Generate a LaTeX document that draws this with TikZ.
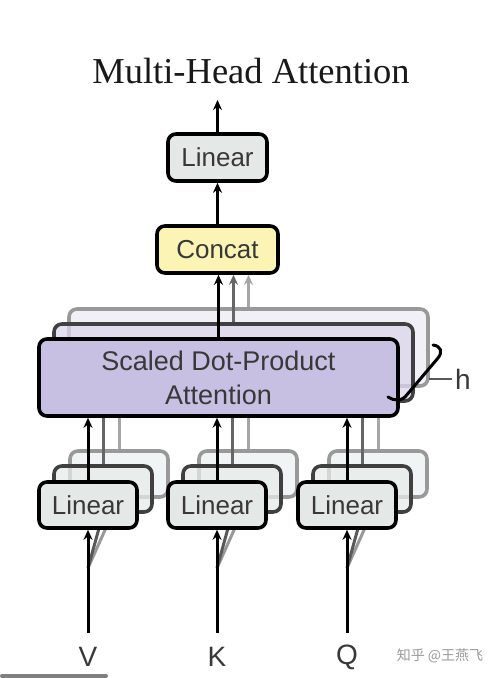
\documentclass[tikz,border=0pt]{standalone}
\usepackage{fontspec}
\setmainfont{Liberation Serif}
\setsansfont{Liberation Sans}
\newfontfamily\cjkfont{Noto Sans CJK SC}
\usetikzlibrary{arrows.meta}
\definecolor{linfill}{HTML}{E4E9E8}
\definecolor{catfill}{HTML}{FBF4B4}
\definecolor{sdpfill}{HTML}{C8C0E2}
\definecolor{txt}{HTML}{383838}
\begin{document}
\begin{tikzpicture}[x=1pt,y=-1pt,
  box/.style={draw=black, line width=3.6pt, rounded corners=8pt, inner sep=0pt,
    text=txt, font=\sffamily\fontsize{26}{30}\selectfont},
  linbox/.style={box, fill=linfill, minimum width=98pt, minimum height=46pt},
  backA/.style={draw=black!75, fill opacity=0.75},
  backB/.style={draw=black!40, fill opacity=0.6},
  arr/.style={line width=3pt, -{Stealth[length=10pt,width=9pt]}},
  ln/.style={line width=3pt},
  lbl/.style={text=txt, font=\sffamily\fontsize{28}{30}\selectfont, inner sep=0pt}]
\useasboundingbox[fill=white] (0,0) rectangle (496,678);

% title
\node[font=\fontsize{36.5}{40}\selectfont, text=black!90] (title) at (251,71) {Multi-Head Attention};

% top linear and concat
\node[box, fill=linfill, minimum width=99pt, minimum height=47pt] (lin) at (217.5,157.5) {Linear};
\node[box, fill=catfill, minimum width=121pt, minimum height=47pt] (cat) at (217.5,249.5) {Concat};
\coordinate (out) at (217.5,100);
\draw[arr] (lin.north) -- (out);
\draw[arr] (cat.north) -- (lin.south);

% scaled dot-product attention stack
\node[box, backB, fill=sdpfill!40, minimum width=359pt, minimum height=77pt] (s2) at (248.5,347.5) {};
\node[box, backA, fill=sdpfill!65, minimum width=359pt, minimum height=77pt] (s1) at (233.5,362.5) {};
\draw[arr, black!35] (s2.north) -- (s2.north |- cat.south);
\draw[arr, black!60] (s1.north) -- (s1.north |- cat.south);

% bottom linear stacks
\foreach \n/\x in {V/88,K/217,Q/347}{
  \node[linbox, backB, fill=linfill!80] (b\n2) at (\x+31,474) {};
  \node[linbox, backA, fill=linfill!90] (b\n1) at (\x+15,489) {};
  \draw[ln, black!35] (b\n2.north) -- (b\n2.north |- s2.south);
  \draw[ln, black!60] (b\n1.north) -- (b\n1.north |- s1.south);
  \coordinate (br\n) at (\x,568);
  \draw[ln, black!40] (br\n) -- (b\n2.south);
  \draw[ln, black!65] (br\n) -- (b\n1.south);
  \node[linbox] (b\n0) at (\x,505) {Linear};
  \coordinate (in\n) at (\x,633);
  \draw[arr] (in\n) -- (b\n0.south);
  \node[lbl] (lab\n) at (\x,657) {\n};
}

% front attention box
\node[box, fill=sdpfill, minimum width=359pt, minimum height=77pt, align=center,
  font=\sffamily\fontsize{27}{34}\selectfont] (s0) at (218.5,377.5) {Scaled Dot-Product\\Attention};
\draw[arr] (s0.north) -- (s0.north |- cat.south);
\foreach \n in {V,K,Q}{
  \draw[arr] (b\n0.north) -- (b\n0.north |- s0.south);
}

% h bracket
\node[lbl] (h) at (463,379) {h};
\draw[line width=2.5pt, black!65] (h.west) ++(-3,0) -- ++(-23,0);
\draw[line width=3pt, line cap=round] (433,345) .. controls (441,346) and (443,352) .. (438,358)
  -- (405,397) .. controls (401,401) and (394,401) .. (388,397);

% watermark and bottom bar
\node[font=\cjkfont\fontsize{14}{14}\selectfont, text=black!40] (wm) at (440,656) {知乎 @王燕飞};
\fill[black!50, rounded corners=2pt] (0,674) rectangle (108,678);
\end{tikzpicture}
\end{document}
